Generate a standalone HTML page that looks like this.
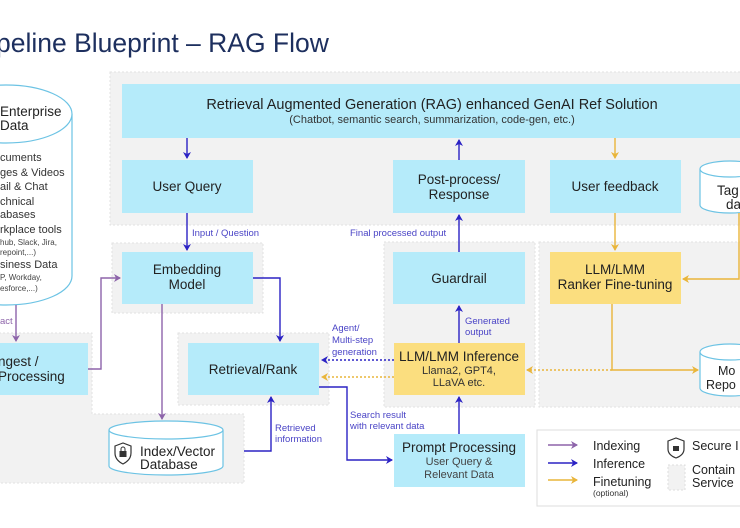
<!DOCTYPE html>
<html><head><meta charset="utf-8"><style>
html,body{margin:0;padding:0;background:#fff;}
svg{display:block;font-family:"Liberation Sans",sans-serif;}
</style></head><body>
<svg width="740" height="528" viewBox="0 0 740 528" xmlns="http://www.w3.org/2000/svg">
<defs>
<marker id="ab" markerWidth="8" markerHeight="8" refX="6" refY="4" orient="auto" markerUnits="userSpaceOnUse"><path d="M0,0 L7,4 L0,8 L2,4 Z" fill="#2b22c4"/></marker>
<marker id="ap" markerWidth="8" markerHeight="8" refX="6" refY="4" orient="auto" markerUnits="userSpaceOnUse"><path d="M0,0 L7,4 L0,8 L2,4 Z" fill="#8d64aa"/></marker>
<marker id="ay" markerWidth="8" markerHeight="8" refX="6" refY="4" orient="auto" markerUnits="userSpaceOnUse"><path d="M0,0 L7,4 L0,8 L2,4 Z" fill="#e9b53a"/></marker>
</defs>
<text x="-4" y="52" font-size="26.5" fill="#1d2f5e">peline Blueprint – RAG Flow</text>

<!-- containers -->
<rect x="110" y="72" width="640" height="153" fill="#f2f2f2" stroke="#e2e2e2" stroke-dasharray="2,2"/>
<rect x="112" y="243" width="151" height="70" fill="#f2f2f2" stroke="#e2e2e2" stroke-dasharray="2,2"/>
<rect x="384" y="242" width="151" height="165" fill="#f2f2f2" stroke="#e2e2e2" stroke-dasharray="2,2"/>
<rect x="539" y="242" width="210" height="165" fill="#f2f2f2" stroke="#e2e2e2" stroke-dasharray="2,2"/>
<rect x="178" y="333" width="151" height="72" fill="#f2f2f2" stroke="#e2e2e2" stroke-dasharray="2,2"/>
<path d="M-5,333 H92 V414 H244 V483 H-5 Z" fill="#f2f2f2" stroke="#e2e2e2" stroke-dasharray="2,2"/>

<!-- boxes -->
<rect x="122" y="84" width="630" height="54" fill="#b5ebfa"/>
<text x="432" y="109" font-size="14.5" fill="#222" text-anchor="middle">Retrieval Augmented Generation (RAG) enhanced GenAI Ref Solution</text>
<text x="432" y="123" font-size="11" fill="#333" text-anchor="middle">(Chatbot, semantic search, summarization, code-gen, etc.)</text>

<rect x="122" y="160" width="131" height="53" fill="#b5ebfa"/>
<text x="187" y="191" font-size="13.5" fill="#222" text-anchor="middle">User Query</text>
<rect x="393" y="160" width="132" height="53" fill="#b5ebfa"/>
<text x="459" y="184" font-size="13.5" fill="#222" text-anchor="middle">Post-process/</text>
<text x="459" y="199" font-size="13.5" fill="#222" text-anchor="middle">Response</text>
<rect x="550" y="160" width="131" height="53" fill="#b5ebfa"/>
<text x="615" y="191" font-size="13.5" fill="#222" text-anchor="middle">User feedback</text>

<rect x="122" y="252" width="131" height="52" fill="#b5ebfa"/>
<text x="187" y="274" font-size="13.5" fill="#222" text-anchor="middle">Embedding</text>
<text x="187" y="289" font-size="13.5" fill="#222" text-anchor="middle">Model</text>
<rect x="393" y="252" width="132" height="52" fill="#b5ebfa"/>
<text x="459" y="283" font-size="13.5" fill="#222" text-anchor="middle">Guardrail</text>
<rect x="550" y="252" width="131" height="52" fill="#fbde7f"/>
<text x="615" y="274" font-size="13.5" fill="#222" text-anchor="middle">LLM/LMM</text>
<text x="615" y="289" font-size="13.5" fill="#222" text-anchor="middle">Ranker Fine-tuning</text>

<rect x="188" y="343" width="131" height="52" fill="#b5ebfa"/>
<text x="253" y="374" font-size="13.5" fill="#222" text-anchor="middle">Retrieval/Rank</text>
<rect x="394" y="343" width="131" height="52" fill="#fbde7f"/>
<text x="459" y="361" font-size="13.5" fill="#222" text-anchor="middle">LLM/LMM Inference</text>
<text x="459" y="374" font-size="11" fill="#333" text-anchor="middle">Llama2, GPT4,</text>
<text x="459" y="386" font-size="11" fill="#333" text-anchor="middle">LLaVA etc.</text>
<rect x="-5" y="343" width="93" height="52" fill="#b5ebfa"/>
<text x="-2" y="366" font-size="13.5" fill="#222">ngest /</text>
<text x="-2" y="381" font-size="13.5" fill="#222">Processing</text>
<rect x="394" y="434" width="131" height="53" fill="#b5ebfa"/>
<text x="459" y="452" font-size="13.5" fill="#222" text-anchor="middle">Prompt Processing</text>
<text x="459" y="465" font-size="11" fill="#444" text-anchor="middle">User Query &amp;</text>
<text x="459" y="478" font-size="11" fill="#444" text-anchor="middle">Relevant Data</text>

<!-- enterprise cylinder -->
<path d="M-60,114 V276 A66,29 0 0 0 72,276 V114" fill="#fff" stroke="#6cc3e4" stroke-width="1.2"/>
<ellipse cx="6" cy="114" rx="66" ry="29" fill="#fff" stroke="#6cc3e4" stroke-width="1.2"/>
<text x="0" y="116" font-size="13.5" fill="#222">Enterprise</text>
<text x="0" y="130" font-size="13.5" fill="#222">Data</text>
<g font-size="11" fill="#333">
<text x="0" y="161">cuments</text>
<text x="0" y="176">ges &amp; Videos</text>
<text x="0" y="190">ail &amp; Chat</text>
<text x="0" y="205">chnical</text>
<text x="0" y="218">abases</text>
<text x="0" y="233">rkplace tools</text>
<text x="0" y="268">siness Data</text>
</g>
<g font-size="8" fill="#444">
<text x="0" y="245">hub, Slack, Jira,</text>
<text x="0" y="255">repoint,...)</text>
<text x="0" y="280">P, Workday,</text>
<text x="0" y="291">esforce,...)</text>
</g>

<!-- tagged data cylinder -->
<path d="M700,169 V205 A30,8 0 0 0 760,205 V169" fill="#fff" stroke="#6cc3e4" stroke-width="1.2"/>
<ellipse cx="730" cy="169" rx="30" ry="8" fill="#fff" stroke="#6cc3e4" stroke-width="1.2"/>
<text x="717" y="195" font-size="13.5" fill="#222">Tag</text>
<text x="726" y="209" font-size="13.5" fill="#222">da</text>
<!-- model repo cylinder -->
<path d="M700,352 V388 A30,8 0 0 0 760,388 V352" fill="#fff" stroke="#6cc3e4" stroke-width="1.2"/>
<ellipse cx="730" cy="352" rx="30" ry="8" fill="#fff" stroke="#6cc3e4" stroke-width="1.2"/>
<text x="718" y="375" font-size="12.5" fill="#222">Mo</text>
<text x="706" y="389" font-size="12.5" fill="#222">Repo</text>
<!-- index cylinder -->
<path d="M109,430 V466 A57,9 0 0 0 223,466 V430" fill="#fff" stroke="#6cc3e4" stroke-width="1.2"/>
<ellipse cx="166" cy="430" rx="57" ry="9" fill="#fff" stroke="#6cc3e4" stroke-width="1.2"/>
<path d="M115,446 L123,443 L131,446 V453 Q131,460 123,464 Q115,460 115,453 Z" fill="none" stroke="#333" stroke-width="1.2"/>
<rect x="119.5" y="451" width="7" height="6" fill="#333"/>
<path d="M121,451 V449 A2,2 0 0 1 125,449 V451" fill="none" stroke="#333"/>
<text x="140" y="456" font-size="13.5" fill="#222">Index/Vector</text>
<text x="140" y="469" font-size="13.5" fill="#222">Database</text>

<!-- inference arrows -->
<g stroke="#2b22c4" stroke-width="1.4" fill="none">
<line x1="187" y1="138" x2="187" y2="158" marker-end="url(#ab)"/>
<line x1="187" y1="213" x2="187" y2="250" marker-end="url(#ab)"/>
<line x1="459" y1="160" x2="459" y2="140" marker-end="url(#ab)"/>
<line x1="459" y1="252" x2="459" y2="215" marker-end="url(#ab)"/>
<line x1="459" y1="343" x2="459" y2="306" marker-end="url(#ab)"/>
<line x1="459" y1="434" x2="459" y2="397" marker-end="url(#ab)"/>
<path d="M253,278 H280 V341" marker-end="url(#ab)"/>
<path d="M244,451 H271 V397" marker-end="url(#ab)"/>
<path d="M319,387 H347 V460 H392" marker-end="url(#ab)"/>
<line x1="394" y1="360" x2="322" y2="360" stroke-dasharray="2,2" marker-end="url(#ab)"/>
</g>
<!-- indexing arrows -->
<g stroke="#8d64aa" stroke-width="1.4" fill="none">
<line x1="16" y1="305" x2="16" y2="341" marker-end="url(#ap)"/>
<path d="M88,369 H101 V278 H120" marker-end="url(#ap)"/>
<line x1="162" y1="304" x2="162" y2="419" marker-end="url(#ap)"/>
</g>
<!-- finetune arrows -->
<g stroke="#e9b53a" stroke-width="1.4" fill="none">
<line x1="615" y1="138" x2="615" y2="158" marker-end="url(#ay)"/>
<line x1="615" y1="213" x2="615" y2="250" marker-end="url(#ay)"/>
<path d="M739,213 V279 H683" marker-end="url(#ay)"/>
<path d="M612,304 V370 H698" marker-end="url(#ay)"/>
<line x1="612" y1="370" x2="527" y2="370" stroke-dasharray="2,2" marker-end="url(#ay)"/>
<line x1="394" y1="377" x2="322" y2="377" stroke-dasharray="2,2" marker-end="url(#ay)"/>
</g>

<!-- labels -->
<g font-size="9.5" fill="#4a44c6">
<text x="192" y="236">Input / Question</text>
<text x="350" y="236">Final processed output</text>
<text x="465" y="324">Generated</text>
<text x="465" y="335">output</text>
<text x="332" y="331">Agent/</text>
<text x="332" y="343">Multi-step</text>
<text x="332" y="355">generation</text>
<text x="350" y="418">Search result</text>
<text x="350" y="429">with relevant data</text>
<text x="275" y="431">Retrieved</text>
<text x="275" y="442">information</text>
</g>
<text x="0" y="324" font-size="9.5" fill="#8d64aa">act</text>

<!-- legend -->
<rect x="537" y="430" width="215" height="76" fill="#fff" stroke="#ddd"/>
<line x1="548" y1="445" x2="577" y2="445" stroke="#8d64aa" stroke-width="1.4" marker-end="url(#ap)"/>
<line x1="548" y1="463" x2="577" y2="463" stroke="#2b22c4" stroke-width="1.4" marker-end="url(#ab)"/>
<line x1="548" y1="480" x2="577" y2="480" stroke="#e9b53a" stroke-width="1.4" marker-end="url(#ay)"/>
<g font-size="12.5" fill="#222">
<text x="593" y="450">Indexing</text>
<text x="593" y="468">Inference</text>
<text x="593" y="486">Finetuning</text>
<text x="692" y="450">Secure I</text>
<text x="692" y="474">Contain</text>
<text x="692" y="487">Service</text>
</g>
<text x="593" y="496" font-size="8.5" fill="#333">(optional)</text>
<path d="M668,441 L676,438 L684,441 V449 Q684,455 676,458 Q668,455 668,449 Z" fill="none" stroke="#333" stroke-width="1.2"/>
<rect x="673" y="446" width="6" height="5" fill="#333"/>
<rect x="668" y="465" width="17" height="25" fill="#f2f2f2" stroke="#ddd" stroke-dasharray="2,2"/>
</svg>
</body></html>
